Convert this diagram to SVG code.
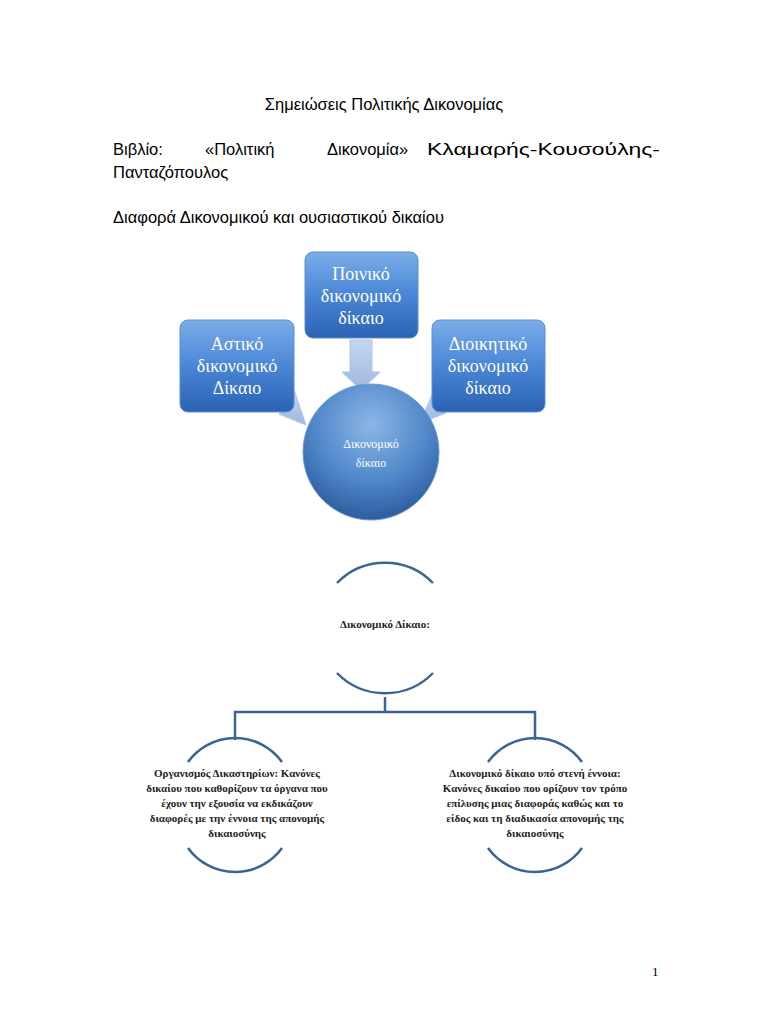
<svg xmlns="http://www.w3.org/2000/svg" width="768" height="1024" viewBox="0 0 768 1024">
<defs>
<linearGradient id="bx" x1="0" y1="0" x2="0" y2="1"><stop offset="0" stop-color="#7aaee8"/><stop offset="0.5" stop-color="#4a86d6"/><stop offset="1" stop-color="#2c62b4"/></linearGradient>
<radialGradient id="ci" cx="0.5" cy="0.3" r="0.7"><stop offset="0" stop-color="#8bb6e6"/><stop offset="0.6" stop-color="#4f87c9"/><stop offset="1" stop-color="#2d5c9e"/></radialGradient>
<linearGradient id="ar" x1="0" y1="0" x2="0" y2="1"><stop offset="0" stop-color="#c4d6ee"/><stop offset="1" stop-color="#9db8df"/></linearGradient>
</defs>
<style>
.h{font-family:"Liberation Sans",Arial,sans-serif;font-size:16.5px;fill:#000}
.bt{font-family:"Liberation Serif",serif;font-size:18px;fill:#fff;text-anchor:middle}
.ct{font-family:"Liberation Serif",serif;font-size:12px;fill:#fff;text-anchor:middle}
.box{fill:url(#bx);stroke:#5b8fd0;stroke-width:1}
.arc{fill:none;stroke:#3b6393;stroke-width:2.5}
.st{font-family:"Liberation Serif",serif;font-size:11px;font-weight:bold;fill:#222;text-anchor:middle}
.arw{fill:url(#ar);stroke:#aec4e4}
</style>
<rect width="768" height="1024" fill="#fff"/>
<text class="h" x="384" y="110" text-anchor="middle">Σημειώσεις Πολιτικής Δικονομίας</text>
<text class="h" x="113" y="155">Βιβλίο:</text>
<text class="h" x="205" y="155">«Πολιτική</text>
<text class="h" x="327" y="155">Δικονομία»</text>
<text class="h" x="427" y="155" textLength="233" lengthAdjust="spacingAndGlyphs">Κλαμαρής-Κουσούλης-</text>
<text class="h" x="113" y="178">Πανταζόπουλος</text>
<text class="h" x="113" y="223">Διαφορά Δικονομικού και ουσιαστικού δικαίου</text>
<g id="connectors">
<path class="arw" d="M350 340 H372 V372 H380 L361 390 L342 372 H350 Z"/>
<path class="arw" d="M284 398 L294 390 L306 425 L279 414 L287 407 Z"/>
<path class="arw" d="M444 398 L434 390 L420 423 L446 413 L438 406 Z"/>
<path d="M385 697 V712 M235 740 V712 H535 V740" fill="none" stroke="#3b6393" stroke-width="2.5"/>
</g>
<g id="center"><circle cx="371" cy="452" r="68" fill="url(#ci)" stroke="#6d9ad4"/><text class="ct" x="371" y="448">Δικονομικό</text><text class="ct" x="371" y="467">δίκαιο</text></g>
<g id="poiniko"><rect class="box" x="305" y="252" width="113" height="86" rx="8"/><text class="bt" x="361" y="280">Ποινικό</text><text class="bt" x="361" y="302">δικονομικό</text><text class="bt" x="361" y="324">δίκαιο</text></g>
<g id="astiko"><rect class="box" x="180" y="320" width="114" height="92" rx="8"/><text class="bt" x="237" y="350">Αστικό</text><text class="bt" x="237" y="372">δικονομικό</text><text class="bt" x="237" y="394">Δίκαιο</text></g>
<g id="dioikitiko"><rect class="box" x="432" y="320" width="113" height="92" rx="8"/><text class="bt" x="488" y="350">Διοικητικό</text><text class="bt" x="488" y="372">δικονομικό</text><text class="bt" x="488" y="394">δίκαιο</text></g>
<g id="top"><path class="arc" d="M337 583 A67 67 0 0 1 433 583 M337 673 A67 67 0 0 0 433 673"/><text class="st" x="385" y="628">Δικονομικό Δίκαιο:</text></g>
<g id="left"><path class="arc" d="M188 762 A58 58 0 0 1 282 762 M188 848 A58 58 0 0 0 282 848"/>
<text class="st" x="237" y="777">Οργανισμός Δικαστηρίων: Κανόνες</text><text class="st" x="237" y="792">δικαίου που καθορίζουν τα όργανα που</text><text class="st" x="237" y="807">έχουν την εξουσία να εκδικάζουν</text><text class="st" x="237" y="822">διαφορές με την έννοια της απονομής</text><text class="st" x="237" y="837">δικαιοσύνης</text></g>
<g id="right"><path class="arc" d="M488 762 A58 58 0 0 1 582 762 M488 848 A58 58 0 0 0 582 848"/>
<text class="st" x="535" y="777">Δικονομικό δίκαιο υπό στενή έννοια:</text><text class="st" x="535" y="792">Κανόνες δικαίου που ορίζουν τον τρόπο</text><text class="st" x="535" y="807">επίλυσης μιας διαφοράς καθώς και το</text><text class="st" x="535" y="822">είδος και τη διαδικασία απονομής της</text><text class="st" x="535" y="837">δικαιοσύνης</text></g>
<text x="652" y="976" font-family="Liberation Serif,serif" font-size="13">1</text>
</svg>
